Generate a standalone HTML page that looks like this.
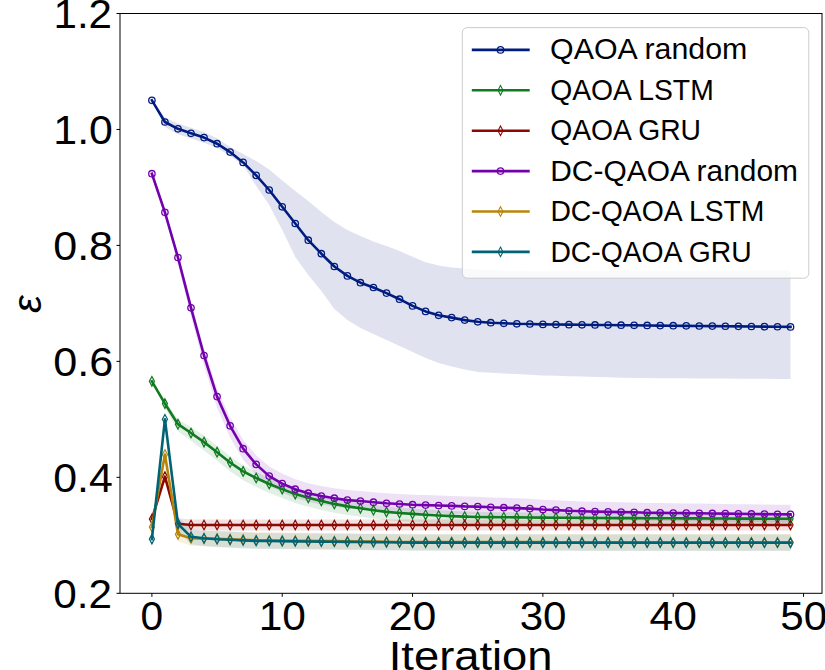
<!DOCTYPE html>
<html><head><meta charset="utf-8"><style>
html,body{margin:0;padding:0;background:#fff;width:825px;height:670px;overflow:hidden}
svg{display:block;position:absolute;left:0;top:0}
</style></head><body>
<svg width="825" height="670" viewBox="0 0 825 670">
<rect width="825" height="670" fill="#fff"/>
<defs><clipPath id="ax"><rect x="120.0" y="13.5" width="702.0" height="579.8"/></clipPath></defs>
<g clip-path="url(#ax)">
<polygon points="151.90,100.30 164.93,117.50 177.97,123.40 191.00,127.80 204.03,132.30 217.06,138.30 230.10,147.00 243.13,154.00 256.16,161.00 269.20,169.50 282.23,180.50 295.26,191.00 308.30,201.00 321.33,212.00 334.36,222.00 347.39,230.00 360.43,236.00 373.46,241.50 386.49,246.00 399.53,251.00 412.56,256.80 425.59,262.20 438.63,265.50 451.66,267.50 464.69,268.50 477.73,269.50 490.76,270.00 503.79,270.50 516.82,271.00 529.86,271.50 542.89,271.42 555.92,271.33 568.96,271.25 581.99,271.17 595.02,271.08 608.05,271.00 621.09,270.96 634.12,270.93 647.15,270.89 660.19,270.86 673.22,270.82 686.25,270.79 699.29,270.75 712.32,270.71 725.35,270.68 738.38,270.64 751.42,270.61 764.45,270.57 777.48,270.54 790.52,270.50 790.52,379.00 777.48,378.92 764.45,378.83 751.42,378.75 738.38,378.67 725.35,378.58 712.32,378.50 699.29,378.42 686.25,378.33 673.22,378.25 660.19,378.17 647.15,378.08 634.12,378.00 621.09,377.64 608.05,377.29 595.02,376.93 581.99,376.57 568.96,376.21 555.92,375.86 542.89,375.50 529.86,374.80 516.82,374.10 503.79,373.40 490.76,372.70 477.73,372.00 464.69,369.50 451.66,366.50 438.63,363.00 425.59,358.00 412.56,352.00 399.53,346.00 386.49,340.00 373.46,334.00 360.43,328.00 347.39,320.00 334.36,309.00 321.33,291.00 308.30,275.00 295.26,257.00 282.23,230.00 269.20,205.00 256.16,186.00 243.13,165.00 230.10,156.00 217.06,148.00 204.03,142.80 191.00,138.50 177.97,134.30 164.93,127.00 151.90,100.30" fill="#001c7f" fill-opacity="0.12"/>
<polygon points="151.90,381.30 164.93,400.60 177.97,419.20 191.00,427.25 204.03,435.60 217.06,445.82 230.10,456.25 243.13,465.27 256.16,472.00 269.20,478.07 282.23,483.24 295.26,488.31 308.30,492.09 321.33,495.36 334.36,498.33 347.39,500.90 360.43,502.85 373.46,504.80 386.49,506.55 399.53,507.70 412.56,508.65 425.59,509.60 438.63,510.35 451.66,511.00 464.69,511.55 477.73,512.00 490.76,512.14 503.79,512.28 516.82,512.42 529.86,512.56 542.89,512.70 555.92,512.81 568.96,512.91 581.99,513.02 595.02,513.12 608.05,513.23 621.09,513.33 634.12,513.40 647.15,513.48 660.19,513.55 673.22,513.63 686.25,513.70 699.29,513.78 712.32,513.85 725.35,513.93 738.38,514.00 751.42,514.08 764.45,514.15 777.48,514.23 790.52,514.30 790.52,523.80 777.48,523.80 764.45,523.80 751.42,523.80 738.38,523.80 725.35,523.79 712.32,523.79 699.29,523.79 686.25,523.79 673.22,523.79 660.19,523.79 647.15,523.79 634.12,523.79 621.09,523.78 608.05,523.75 595.02,523.72 581.99,523.69 568.96,523.66 555.92,523.63 542.89,523.60 529.86,523.68 516.82,523.76 503.79,523.84 490.76,523.92 477.73,524.00 464.69,523.80 451.66,523.50 438.63,523.10 425.59,522.60 412.56,521.90 399.53,521.12 386.49,520.15 373.46,518.58 360.43,516.80 347.39,515.02 334.36,512.65 321.33,509.88 308.30,506.80 295.26,503.10 282.23,498.10 269.20,493.00 256.16,487.00 243.13,480.27 230.10,471.25 217.06,460.82 204.03,450.60 191.00,440.75 177.97,431.20 164.93,407.60 151.90,381.30" fill="#0f7a1f" fill-opacity="0.12"/>
<polygon points="151.90,519.00 164.93,473.70 177.97,518.30 191.00,519.50 204.03,519.50 217.06,519.51 230.10,519.51 243.13,519.51 256.16,519.51 269.20,519.51 282.23,519.52 295.26,519.52 308.30,519.52 321.33,519.52 334.36,519.53 347.39,519.53 360.43,519.53 373.46,519.53 386.49,519.53 399.53,519.54 412.56,519.54 425.59,519.54 438.63,519.54 451.66,519.54 464.69,519.55 477.73,519.55 490.76,519.55 503.79,519.55 516.82,519.56 529.86,519.56 542.89,519.56 555.92,519.56 568.96,519.56 581.99,519.57 595.02,519.57 608.05,519.57 621.09,519.57 634.12,519.57 647.15,519.58 660.19,519.58 673.22,519.58 686.25,519.58 699.29,519.59 712.32,519.59 725.35,519.59 738.38,519.59 751.42,519.59 764.45,519.60 777.48,519.60 790.52,519.60 790.52,530.40 777.48,530.40 764.45,530.40 751.42,530.41 738.38,530.41 725.35,530.41 712.32,530.41 699.29,530.41 686.25,530.42 673.22,530.42 660.19,530.42 647.15,530.42 634.12,530.43 621.09,530.43 608.05,530.43 595.02,530.43 581.99,530.43 568.96,530.44 555.92,530.44 542.89,530.44 529.86,530.44 516.82,530.44 503.79,530.45 490.76,530.45 477.73,530.45 464.69,530.45 451.66,530.46 438.63,530.46 425.59,530.46 412.56,530.46 399.53,530.46 386.49,530.47 373.46,530.47 360.43,530.47 347.39,530.47 334.36,530.47 321.33,530.48 308.30,530.48 295.26,530.48 282.23,530.48 269.20,530.49 256.16,530.49 243.13,530.49 230.10,530.49 217.06,530.49 204.03,530.50 191.00,530.50 177.97,529.30 164.93,479.70 151.90,519.00" fill="#8c0800" fill-opacity="0.12"/>
<polygon points="151.90,173.70 164.93,209.30 177.97,252.50 191.00,301.80 204.03,348.50 217.06,388.85 230.10,417.30 243.13,439.82 256.16,455.15 269.20,466.48 282.23,473.60 295.26,479.20 308.30,483.20 321.33,486.00 334.36,488.20 347.39,490.10 360.43,491.00 373.46,492.20 386.49,493.30 399.53,494.00 412.56,494.70 425.59,495.11 438.63,495.53 451.66,495.94 464.69,496.46 477.73,496.67 490.76,497.38 503.79,497.80 516.82,498.21 529.86,498.72 542.89,499.64 555.92,500.25 568.96,500.97 581.99,501.38 595.02,501.79 608.05,502.11 621.09,502.32 634.12,502.53 647.15,502.95 660.19,503.12 673.22,503.28 686.25,503.45 699.29,503.62 712.32,503.79 725.35,503.96 738.38,504.13 751.42,504.29 764.45,504.46 777.48,504.63 790.52,504.80 790.52,522.40 777.48,522.25 764.45,522.09 751.42,521.94 738.38,521.78 725.35,521.63 712.32,521.47 699.29,521.32 686.25,521.16 673.22,521.01 660.19,520.85 647.15,520.70 634.12,520.30 621.09,520.10 608.05,519.90 595.02,519.60 581.99,519.20 568.96,518.80 555.92,518.10 542.89,517.50 529.86,516.60 516.82,516.10 503.79,515.70 490.76,515.30 477.73,514.60 464.69,514.40 451.66,513.90 438.63,513.50 425.59,513.10 412.56,512.70 399.53,512.06 386.49,511.43 373.46,510.39 360.43,509.25 347.39,508.41 334.36,506.57 321.33,504.44 308.30,501.70 295.26,498.07 282.23,492.85 269.20,485.73 256.16,474.40 243.13,459.70 230.10,437.80 217.06,407.60 204.03,365.50 191.00,316.30 177.97,264.50 164.93,216.30 151.90,173.70" fill="#7300ad" fill-opacity="0.12"/>
<polygon points="151.90,527.00 164.93,450.50 177.97,527.30 191.00,530.97 204.03,530.93 217.06,530.70 230.10,531.19 243.13,531.69 256.16,532.18 269.20,532.33 282.23,532.48 295.26,532.63 308.30,532.79 321.33,532.94 334.36,533.09 347.39,533.24 360.43,533.39 373.46,533.54 386.49,533.69 399.53,533.85 412.56,534.00 425.59,534.00 438.63,534.00 451.66,534.00 464.69,534.00 477.73,534.00 490.76,534.00 503.79,534.00 516.82,534.00 529.86,534.00 542.89,534.00 555.92,534.00 568.96,534.00 581.99,534.00 595.02,534.00 608.05,534.00 621.09,534.00 634.12,534.00 647.15,534.00 660.19,534.00 673.22,534.00 686.25,534.00 699.29,534.00 712.32,534.00 725.35,534.00 738.38,534.00 751.42,534.00 764.45,534.00 777.48,534.00 790.52,534.00 790.52,550.60 777.48,550.59 764.45,550.57 751.42,550.56 738.38,550.55 725.35,550.53 712.32,550.52 699.29,550.50 686.25,550.49 673.22,550.48 660.19,550.46 647.15,550.45 634.12,550.44 621.09,550.42 608.05,550.41 595.02,550.39 581.99,550.38 568.96,550.37 555.92,550.35 542.89,550.34 529.86,550.33 516.82,550.31 503.79,550.30 490.76,550.28 477.73,550.27 464.69,550.26 451.66,550.24 438.63,550.23 425.59,550.22 412.56,550.20 399.53,550.04 386.49,549.87 373.46,549.71 360.43,549.54 347.39,549.38 334.36,549.21 321.33,549.05 308.30,548.88 295.26,548.72 282.23,548.55 269.20,548.39 256.16,548.22 243.13,547.71 230.10,547.21 217.06,546.70 204.03,546.27 191.00,545.63 177.97,541.30 164.93,458.50 151.90,527.00" fill="#b8850a" fill-opacity="0.12"/>
<polygon points="151.90,539.10 164.93,415.30 177.97,516.80 191.00,529.47 204.03,530.63 217.06,531.20 230.10,531.79 243.13,532.39 256.16,532.88 269.20,533.01 282.23,533.15 295.26,533.28 308.30,533.42 321.33,533.55 334.36,533.69 347.39,533.82 360.43,533.96 373.46,534.09 386.49,534.23 399.53,534.36 412.56,534.50 425.59,534.50 438.63,534.50 451.66,534.50 464.69,534.50 477.73,534.50 490.76,534.50 503.79,534.50 516.82,534.50 529.86,534.50 542.89,534.50 555.92,534.50 568.96,534.50 581.99,534.50 595.02,534.50 608.05,534.50 621.09,534.50 634.12,534.50 647.15,534.50 660.19,534.50 673.22,534.50 686.25,534.50 699.29,534.50 712.32,534.50 725.35,534.50 738.38,534.50 751.42,534.50 764.45,534.50 777.48,534.50 790.52,534.50 790.52,551.10 777.48,551.09 764.45,551.07 751.42,551.06 738.38,551.05 725.35,551.03 712.32,551.02 699.29,551.00 686.25,550.99 673.22,550.98 660.19,550.96 647.15,550.95 634.12,550.94 621.09,550.92 608.05,550.91 595.02,550.89 581.99,550.88 568.96,550.87 555.92,550.85 542.89,550.84 529.86,550.83 516.82,550.81 503.79,550.80 490.76,550.78 477.73,550.77 464.69,550.76 451.66,550.74 438.63,550.73 425.59,550.72 412.56,550.70 399.53,550.55 386.49,550.41 373.46,550.26 360.43,550.11 347.39,549.96 334.36,549.81 321.33,549.66 308.30,549.51 295.26,549.37 282.23,549.22 269.20,549.07 256.16,548.92 243.13,548.41 230.10,547.81 217.06,547.20 204.03,545.97 191.00,544.13 177.97,530.80 164.93,423.30 151.90,539.10" fill="#006374" fill-opacity="0.12"/>
<polyline points="151.90,100.30 164.93,122.00 177.97,128.80 191.00,133.30 204.03,137.60 217.06,143.70 230.10,152.10 243.13,162.40 256.16,175.40 269.20,190.00 282.23,206.80 295.26,223.50 308.30,240.20 321.33,253.70 334.36,266.50 347.39,275.90 360.43,282.70 373.46,287.50 386.49,293.10 399.53,299.20 412.56,305.90 425.59,311.40 438.63,315.30 451.66,317.60 464.69,320.10 477.73,321.80 490.76,322.70 503.79,323.30 516.82,323.80 529.86,324.00 542.89,324.40 555.92,324.53 568.96,324.66 581.99,324.79 595.02,324.93 608.05,325.06 621.09,325.19 634.12,325.32 647.15,325.45 660.19,325.58 673.22,325.72 686.25,325.85 699.29,325.98 712.32,326.11 725.35,326.24 738.38,326.37 751.42,326.51 764.45,326.64 777.48,326.77 790.52,326.90" fill="none" stroke="#001c7f" stroke-width="2.6" stroke-linejoin="round" stroke-linecap="square"/>
<g fill="none" stroke="#001c7f" stroke-width="1.3"><circle cx="151.90" cy="100.30" r="3.2"/><circle cx="164.93" cy="122.00" r="3.2"/><circle cx="177.97" cy="128.80" r="3.2"/><circle cx="191.00" cy="133.30" r="3.2"/><circle cx="204.03" cy="137.60" r="3.2"/><circle cx="217.06" cy="143.70" r="3.2"/><circle cx="230.10" cy="152.10" r="3.2"/><circle cx="243.13" cy="162.40" r="3.2"/><circle cx="256.16" cy="175.40" r="3.2"/><circle cx="269.20" cy="190.00" r="3.2"/><circle cx="282.23" cy="206.80" r="3.2"/><circle cx="295.26" cy="223.50" r="3.2"/><circle cx="308.30" cy="240.20" r="3.2"/><circle cx="321.33" cy="253.70" r="3.2"/><circle cx="334.36" cy="266.50" r="3.2"/><circle cx="347.39" cy="275.90" r="3.2"/><circle cx="360.43" cy="282.70" r="3.2"/><circle cx="373.46" cy="287.50" r="3.2"/><circle cx="386.49" cy="293.10" r="3.2"/><circle cx="399.53" cy="299.20" r="3.2"/><circle cx="412.56" cy="305.90" r="3.2"/><circle cx="425.59" cy="311.40" r="3.2"/><circle cx="438.63" cy="315.30" r="3.2"/><circle cx="451.66" cy="317.60" r="3.2"/><circle cx="464.69" cy="320.10" r="3.2"/><circle cx="477.73" cy="321.80" r="3.2"/><circle cx="490.76" cy="322.70" r="3.2"/><circle cx="503.79" cy="323.30" r="3.2"/><circle cx="516.82" cy="323.80" r="3.2"/><circle cx="529.86" cy="324.00" r="3.2"/><circle cx="542.89" cy="324.40" r="3.2"/><circle cx="555.92" cy="324.53" r="3.2"/><circle cx="568.96" cy="324.66" r="3.2"/><circle cx="581.99" cy="324.79" r="3.2"/><circle cx="595.02" cy="324.93" r="3.2"/><circle cx="608.05" cy="325.06" r="3.2"/><circle cx="621.09" cy="325.19" r="3.2"/><circle cx="634.12" cy="325.32" r="3.2"/><circle cx="647.15" cy="325.45" r="3.2"/><circle cx="660.19" cy="325.58" r="3.2"/><circle cx="673.22" cy="325.72" r="3.2"/><circle cx="686.25" cy="325.85" r="3.2"/><circle cx="699.29" cy="325.98" r="3.2"/><circle cx="712.32" cy="326.11" r="3.2"/><circle cx="725.35" cy="326.24" r="3.2"/><circle cx="738.38" cy="326.37" r="3.2"/><circle cx="751.42" cy="326.51" r="3.2"/><circle cx="764.45" cy="326.64" r="3.2"/><circle cx="777.48" cy="326.77" r="3.2"/><circle cx="790.52" cy="326.90" r="3.2"/></g>
<polyline points="151.90,381.30 164.93,403.60 177.97,424.20 191.00,433.00 204.03,442.10 217.06,452.20 230.10,462.50 243.13,471.40 256.16,478.00 269.20,484.00 282.23,489.10 295.26,494.10 308.30,497.80 321.33,501.00 334.36,503.90 347.39,506.40 360.43,508.30 373.46,510.20 386.49,511.90 399.53,513.00 412.56,513.90 425.59,514.80 438.63,515.50 451.66,516.10 464.69,516.60 477.73,517.00 490.76,517.12 503.79,517.24 516.82,517.36 529.86,517.48 542.89,517.60 555.92,517.68 568.96,517.77 581.99,517.85 595.02,517.93 608.05,518.02 621.09,518.10 634.12,518.15 647.15,518.21 660.19,518.26 673.22,518.32 686.25,518.37 699.29,518.42 712.32,518.48 725.35,518.53 738.38,518.58 751.42,518.64 764.45,518.69 777.48,518.75 790.52,518.80" fill="none" stroke="#0f7a1f" stroke-width="2.6" stroke-linejoin="round" stroke-linecap="square"/>
<path d="M151.90,376.50L154.45,381.30L151.90,386.10L149.35,381.30ZM164.93,398.80L167.48,403.60L164.93,408.40L162.38,403.60ZM177.97,419.40L180.52,424.20L177.97,429.00L175.42,424.20ZM191.00,428.20L193.55,433.00L191.00,437.80L188.45,433.00ZM204.03,437.30L206.58,442.10L204.03,446.90L201.48,442.10ZM217.06,447.40L219.62,452.20L217.06,457.00L214.51,452.20ZM230.10,457.70L232.65,462.50L230.10,467.30L227.55,462.50ZM243.13,466.60L245.68,471.40L243.13,476.20L240.58,471.40ZM256.16,473.20L258.71,478.00L256.16,482.80L253.61,478.00ZM269.20,479.20L271.75,484.00L269.20,488.80L266.65,484.00ZM282.23,484.30L284.78,489.10L282.23,493.90L279.68,489.10ZM295.26,489.30L297.81,494.10L295.26,498.90L292.71,494.10ZM308.30,493.00L310.85,497.80L308.30,502.60L305.75,497.80ZM321.33,496.20L323.88,501.00L321.33,505.80L318.78,501.00ZM334.36,499.10L336.91,503.90L334.36,508.70L331.81,503.90ZM347.39,501.60L349.94,506.40L347.39,511.20L344.84,506.40ZM360.43,503.50L362.98,508.30L360.43,513.10L357.88,508.30ZM373.46,505.40L376.01,510.20L373.46,515.00L370.91,510.20ZM386.49,507.10L389.04,511.90L386.49,516.70L383.94,511.90ZM399.53,508.20L402.08,513.00L399.53,517.80L396.98,513.00ZM412.56,509.10L415.11,513.90L412.56,518.70L410.01,513.90ZM425.59,510.00L428.14,514.80L425.59,519.60L423.04,514.80ZM438.63,510.70L441.18,515.50L438.63,520.30L436.08,515.50ZM451.66,511.30L454.21,516.10L451.66,520.90L449.11,516.10ZM464.69,511.80L467.24,516.60L464.69,521.40L462.14,516.60ZM477.73,512.20L480.28,517.00L477.73,521.80L475.18,517.00ZM490.76,512.32L493.31,517.12L490.76,521.92L488.21,517.12ZM503.79,512.44L506.34,517.24L503.79,522.04L501.24,517.24ZM516.82,512.56L519.37,517.36L516.82,522.16L514.27,517.36ZM529.86,512.68L532.41,517.48L529.86,522.28L527.31,517.48ZM542.89,512.80L545.44,517.60L542.89,522.40L540.34,517.60ZM555.92,512.88L558.47,517.68L555.92,522.48L553.37,517.68ZM568.96,512.97L571.51,517.77L568.96,522.57L566.41,517.77ZM581.99,513.05L584.54,517.85L581.99,522.65L579.44,517.85ZM595.02,513.13L597.57,517.93L595.02,522.73L592.47,517.93ZM608.05,513.22L610.60,518.02L608.05,522.82L605.50,518.02ZM621.09,513.30L623.64,518.10L621.09,522.90L618.54,518.10ZM634.12,513.35L636.67,518.15L634.12,522.95L631.57,518.15ZM647.15,513.41L649.70,518.21L647.15,523.01L644.60,518.21ZM660.19,513.46L662.74,518.26L660.19,523.06L657.64,518.26ZM673.22,513.52L675.77,518.32L673.22,523.12L670.67,518.32ZM686.25,513.57L688.80,518.37L686.25,523.17L683.70,518.37ZM699.29,513.62L701.84,518.42L699.29,523.22L696.74,518.42ZM712.32,513.68L714.87,518.48L712.32,523.28L709.77,518.48ZM725.35,513.73L727.90,518.53L725.35,523.33L722.80,518.53ZM738.38,513.78L740.93,518.58L738.38,523.38L735.84,518.58ZM751.42,513.84L753.97,518.64L751.42,523.44L748.87,518.64ZM764.45,513.89L767.00,518.69L764.45,523.49L761.90,518.69ZM777.48,513.95L780.03,518.75L777.48,523.55L774.93,518.75ZM790.52,514.00L793.07,518.80L790.52,523.60L787.97,518.80Z" fill="none" stroke="#0f7a1f" stroke-width="1.2" stroke-linejoin="miter"/>
<polyline points="151.90,519.00 164.93,476.70 177.97,523.80 191.00,525.00 204.03,525.00 217.06,525.00 230.10,525.00 243.13,525.00 256.16,525.00 269.20,525.00 282.23,525.00 295.26,525.00 308.30,525.00 321.33,525.00 334.36,525.00 347.39,525.00 360.43,525.00 373.46,525.00 386.49,525.00 399.53,525.00 412.56,525.00 425.59,525.00 438.63,525.00 451.66,525.00 464.69,525.00 477.73,525.00 490.76,525.00 503.79,525.00 516.82,525.00 529.86,525.00 542.89,525.00 555.92,525.00 568.96,525.00 581.99,525.00 595.02,525.00 608.05,525.00 621.09,525.00 634.12,525.00 647.15,525.00 660.19,525.00 673.22,525.00 686.25,525.00 699.29,525.00 712.32,525.00 725.35,525.00 738.38,525.00 751.42,525.00 764.45,525.00 777.48,525.00 790.52,525.00" fill="none" stroke="#8c0800" stroke-width="2.6" stroke-linejoin="round" stroke-linecap="square"/>
<path d="M151.90,514.20L154.45,519.00L151.90,523.80L149.35,519.00ZM164.93,471.90L167.48,476.70L164.93,481.50L162.38,476.70ZM177.97,519.00L180.52,523.80L177.97,528.60L175.42,523.80ZM191.00,520.20L193.55,525.00L191.00,529.80L188.45,525.00ZM204.03,520.20L206.58,525.00L204.03,529.80L201.48,525.00ZM217.06,520.20L219.62,525.00L217.06,529.80L214.51,525.00ZM230.10,520.20L232.65,525.00L230.10,529.80L227.55,525.00ZM243.13,520.20L245.68,525.00L243.13,529.80L240.58,525.00ZM256.16,520.20L258.71,525.00L256.16,529.80L253.61,525.00ZM269.20,520.20L271.75,525.00L269.20,529.80L266.65,525.00ZM282.23,520.20L284.78,525.00L282.23,529.80L279.68,525.00ZM295.26,520.20L297.81,525.00L295.26,529.80L292.71,525.00ZM308.30,520.20L310.85,525.00L308.30,529.80L305.75,525.00ZM321.33,520.20L323.88,525.00L321.33,529.80L318.78,525.00ZM334.36,520.20L336.91,525.00L334.36,529.80L331.81,525.00ZM347.39,520.20L349.94,525.00L347.39,529.80L344.84,525.00ZM360.43,520.20L362.98,525.00L360.43,529.80L357.88,525.00ZM373.46,520.20L376.01,525.00L373.46,529.80L370.91,525.00ZM386.49,520.20L389.04,525.00L386.49,529.80L383.94,525.00ZM399.53,520.20L402.08,525.00L399.53,529.80L396.98,525.00ZM412.56,520.20L415.11,525.00L412.56,529.80L410.01,525.00ZM425.59,520.20L428.14,525.00L425.59,529.80L423.04,525.00ZM438.63,520.20L441.18,525.00L438.63,529.80L436.08,525.00ZM451.66,520.20L454.21,525.00L451.66,529.80L449.11,525.00ZM464.69,520.20L467.24,525.00L464.69,529.80L462.14,525.00ZM477.73,520.20L480.28,525.00L477.73,529.80L475.18,525.00ZM490.76,520.20L493.31,525.00L490.76,529.80L488.21,525.00ZM503.79,520.20L506.34,525.00L503.79,529.80L501.24,525.00ZM516.82,520.20L519.37,525.00L516.82,529.80L514.27,525.00ZM529.86,520.20L532.41,525.00L529.86,529.80L527.31,525.00ZM542.89,520.20L545.44,525.00L542.89,529.80L540.34,525.00ZM555.92,520.20L558.47,525.00L555.92,529.80L553.37,525.00ZM568.96,520.20L571.51,525.00L568.96,529.80L566.41,525.00ZM581.99,520.20L584.54,525.00L581.99,529.80L579.44,525.00ZM595.02,520.20L597.57,525.00L595.02,529.80L592.47,525.00ZM608.05,520.20L610.60,525.00L608.05,529.80L605.50,525.00ZM621.09,520.20L623.64,525.00L621.09,529.80L618.54,525.00ZM634.12,520.20L636.67,525.00L634.12,529.80L631.57,525.00ZM647.15,520.20L649.70,525.00L647.15,529.80L644.60,525.00ZM660.19,520.20L662.74,525.00L660.19,529.80L657.64,525.00ZM673.22,520.20L675.77,525.00L673.22,529.80L670.67,525.00ZM686.25,520.20L688.80,525.00L686.25,529.80L683.70,525.00ZM699.29,520.20L701.84,525.00L699.29,529.80L696.74,525.00ZM712.32,520.20L714.87,525.00L712.32,529.80L709.77,525.00ZM725.35,520.20L727.90,525.00L725.35,529.80L722.80,525.00ZM738.38,520.20L740.93,525.00L738.38,529.80L735.84,525.00ZM751.42,520.20L753.97,525.00L751.42,529.80L748.87,525.00ZM764.45,520.20L767.00,525.00L764.45,529.80L761.90,525.00ZM777.48,520.20L780.03,525.00L777.48,529.80L774.93,525.00ZM790.52,520.20L793.07,525.00L790.52,529.80L787.97,525.00Z" fill="none" stroke="#8c0800" stroke-width="1.2" stroke-linejoin="miter"/>
<polyline points="151.90,173.70 164.93,212.30 177.97,257.50 191.00,307.80 204.03,355.50 217.06,396.60 230.10,425.80 243.13,448.70 256.16,464.40 269.20,476.10 282.23,483.60 295.26,489.20 308.30,493.20 321.33,496.00 334.36,498.20 347.39,500.10 360.43,501.00 373.46,502.20 386.49,503.30 399.53,504.00 412.56,504.70 425.59,505.10 438.63,505.50 451.66,505.90 464.69,506.40 477.73,506.60 490.76,507.30 503.79,507.70 516.82,508.10 529.86,508.60 542.89,509.50 555.92,510.10 568.96,510.80 581.99,511.20 595.02,511.60 608.05,511.90 621.09,512.10 634.12,512.30 647.15,512.70 660.19,512.85 673.22,513.01 686.25,513.16 699.29,513.32 712.32,513.47 725.35,513.63 738.38,513.78 751.42,513.94 764.45,514.09 777.48,514.25 790.52,514.40" fill="none" stroke="#7300ad" stroke-width="2.6" stroke-linejoin="round" stroke-linecap="square"/>
<g fill="none" stroke="#7300ad" stroke-width="1.3"><circle cx="151.90" cy="173.70" r="3.2"/><circle cx="164.93" cy="212.30" r="3.2"/><circle cx="177.97" cy="257.50" r="3.2"/><circle cx="191.00" cy="307.80" r="3.2"/><circle cx="204.03" cy="355.50" r="3.2"/><circle cx="217.06" cy="396.60" r="3.2"/><circle cx="230.10" cy="425.80" r="3.2"/><circle cx="243.13" cy="448.70" r="3.2"/><circle cx="256.16" cy="464.40" r="3.2"/><circle cx="269.20" cy="476.10" r="3.2"/><circle cx="282.23" cy="483.60" r="3.2"/><circle cx="295.26" cy="489.20" r="3.2"/><circle cx="308.30" cy="493.20" r="3.2"/><circle cx="321.33" cy="496.00" r="3.2"/><circle cx="334.36" cy="498.20" r="3.2"/><circle cx="347.39" cy="500.10" r="3.2"/><circle cx="360.43" cy="501.00" r="3.2"/><circle cx="373.46" cy="502.20" r="3.2"/><circle cx="386.49" cy="503.30" r="3.2"/><circle cx="399.53" cy="504.00" r="3.2"/><circle cx="412.56" cy="504.70" r="3.2"/><circle cx="425.59" cy="505.10" r="3.2"/><circle cx="438.63" cy="505.50" r="3.2"/><circle cx="451.66" cy="505.90" r="3.2"/><circle cx="464.69" cy="506.40" r="3.2"/><circle cx="477.73" cy="506.60" r="3.2"/><circle cx="490.76" cy="507.30" r="3.2"/><circle cx="503.79" cy="507.70" r="3.2"/><circle cx="516.82" cy="508.10" r="3.2"/><circle cx="529.86" cy="508.60" r="3.2"/><circle cx="542.89" cy="509.50" r="3.2"/><circle cx="555.92" cy="510.10" r="3.2"/><circle cx="568.96" cy="510.80" r="3.2"/><circle cx="581.99" cy="511.20" r="3.2"/><circle cx="595.02" cy="511.60" r="3.2"/><circle cx="608.05" cy="511.90" r="3.2"/><circle cx="621.09" cy="512.10" r="3.2"/><circle cx="634.12" cy="512.30" r="3.2"/><circle cx="647.15" cy="512.70" r="3.2"/><circle cx="660.19" cy="512.85" r="3.2"/><circle cx="673.22" cy="513.01" r="3.2"/><circle cx="686.25" cy="513.16" r="3.2"/><circle cx="699.29" cy="513.32" r="3.2"/><circle cx="712.32" cy="513.47" r="3.2"/><circle cx="725.35" cy="513.63" r="3.2"/><circle cx="738.38" cy="513.78" r="3.2"/><circle cx="751.42" cy="513.94" r="3.2"/><circle cx="764.45" cy="514.09" r="3.2"/><circle cx="777.48" cy="514.25" r="3.2"/><circle cx="790.52" cy="514.40" r="3.2"/></g>
<polyline points="151.90,527.00 164.93,454.50 177.97,534.30 191.00,538.30 204.03,538.60 217.06,538.70 230.10,539.20 243.13,539.70 256.16,540.20 269.20,540.36 282.23,540.52 295.26,540.68 308.30,540.83 321.33,540.99 334.36,541.15 347.39,541.31 360.43,541.47 373.46,541.62 386.49,541.78 399.53,541.94 412.56,542.10 425.59,542.11 438.63,542.11 451.66,542.12 464.69,542.13 477.73,542.13 490.76,542.14 503.79,542.15 516.82,542.16 529.86,542.16 542.89,542.17 555.92,542.18 568.96,542.18 581.99,542.19 595.02,542.20 608.05,542.20 621.09,542.21 634.12,542.22 647.15,542.22 660.19,542.23 673.22,542.24 686.25,542.24 699.29,542.25 712.32,542.26 725.35,542.27 738.38,542.27 751.42,542.28 764.45,542.29 777.48,542.29 790.52,542.30" fill="none" stroke="#b8850a" stroke-width="2.6" stroke-linejoin="round" stroke-linecap="square"/>
<path d="M151.90,522.20L154.45,527.00L151.90,531.80L149.35,527.00ZM164.93,449.70L167.48,454.50L164.93,459.30L162.38,454.50ZM177.97,529.50L180.52,534.30L177.97,539.10L175.42,534.30ZM191.00,533.50L193.55,538.30L191.00,543.10L188.45,538.30ZM204.03,533.80L206.58,538.60L204.03,543.40L201.48,538.60ZM217.06,533.90L219.62,538.70L217.06,543.50L214.51,538.70ZM230.10,534.40L232.65,539.20L230.10,544.00L227.55,539.20ZM243.13,534.90L245.68,539.70L243.13,544.50L240.58,539.70ZM256.16,535.40L258.71,540.20L256.16,545.00L253.61,540.20ZM269.20,535.56L271.75,540.36L269.20,545.16L266.65,540.36ZM282.23,535.72L284.78,540.52L282.23,545.32L279.68,540.52ZM295.26,535.88L297.81,540.68L295.26,545.48L292.71,540.68ZM308.30,536.03L310.85,540.83L308.30,545.63L305.75,540.83ZM321.33,536.19L323.88,540.99L321.33,545.79L318.78,540.99ZM334.36,536.35L336.91,541.15L334.36,545.95L331.81,541.15ZM347.39,536.51L349.94,541.31L347.39,546.11L344.84,541.31ZM360.43,536.67L362.98,541.47L360.43,546.27L357.88,541.47ZM373.46,536.83L376.01,541.62L373.46,546.42L370.91,541.62ZM386.49,536.98L389.04,541.78L386.49,546.58L383.94,541.78ZM399.53,537.14L402.08,541.94L399.53,546.74L396.98,541.94ZM412.56,537.30L415.11,542.10L412.56,546.90L410.01,542.10ZM425.59,537.31L428.14,542.11L425.59,546.91L423.04,542.11ZM438.63,537.31L441.18,542.11L438.63,546.91L436.08,542.11ZM451.66,537.32L454.21,542.12L451.66,546.92L449.11,542.12ZM464.69,537.33L467.24,542.13L464.69,546.93L462.14,542.13ZM477.73,537.33L480.28,542.13L477.73,546.93L475.18,542.13ZM490.76,537.34L493.31,542.14L490.76,546.94L488.21,542.14ZM503.79,537.35L506.34,542.15L503.79,546.95L501.24,542.15ZM516.82,537.36L519.37,542.16L516.82,546.96L514.27,542.16ZM529.86,537.36L532.41,542.16L529.86,546.96L527.31,542.16ZM542.89,537.37L545.44,542.17L542.89,546.97L540.34,542.17ZM555.92,537.38L558.47,542.18L555.92,546.98L553.37,542.18ZM568.96,537.38L571.51,542.18L568.96,546.98L566.41,542.18ZM581.99,537.39L584.54,542.19L581.99,546.99L579.44,542.19ZM595.02,537.40L597.57,542.20L595.02,547.00L592.47,542.20ZM608.05,537.40L610.60,542.20L608.05,547.00L605.50,542.20ZM621.09,537.41L623.64,542.21L621.09,547.01L618.54,542.21ZM634.12,537.42L636.67,542.22L634.12,547.02L631.57,542.22ZM647.15,537.42L649.70,542.22L647.15,547.02L644.60,542.22ZM660.19,537.43L662.74,542.23L660.19,547.03L657.64,542.23ZM673.22,537.44L675.77,542.24L673.22,547.04L670.67,542.24ZM686.25,537.44L688.80,542.24L686.25,547.04L683.70,542.24ZM699.29,537.45L701.84,542.25L699.29,547.05L696.74,542.25ZM712.32,537.46L714.87,542.26L712.32,547.06L709.77,542.26ZM725.35,537.47L727.90,542.27L725.35,547.07L722.80,542.27ZM738.38,537.47L740.93,542.27L738.38,547.07L735.84,542.27ZM751.42,537.48L753.97,542.28L751.42,547.08L748.87,542.28ZM764.45,537.49L767.00,542.29L764.45,547.09L761.90,542.29ZM777.48,537.49L780.03,542.29L777.48,547.09L774.93,542.29ZM790.52,537.50L793.07,542.30L790.52,547.10L787.97,542.30Z" fill="none" stroke="#b8850a" stroke-width="1.2" stroke-linejoin="miter"/>
<polyline points="151.90,539.10 164.93,419.30 177.97,523.80 191.00,536.80 204.03,538.30 217.06,539.20 230.10,539.80 243.13,540.40 256.16,540.90 269.20,541.04 282.23,541.18 295.26,541.33 308.30,541.47 321.33,541.61 334.36,541.75 347.39,541.89 360.43,542.03 373.46,542.17 386.49,542.32 399.53,542.46 412.56,542.60 425.59,542.61 438.63,542.61 451.66,542.62 464.69,542.63 477.73,542.63 490.76,542.64 503.79,542.65 516.82,542.66 529.86,542.66 542.89,542.67 555.92,542.68 568.96,542.68 581.99,542.69 595.02,542.70 608.05,542.70 621.09,542.71 634.12,542.72 647.15,542.72 660.19,542.73 673.22,542.74 686.25,542.74 699.29,542.75 712.32,542.76 725.35,542.77 738.38,542.77 751.42,542.78 764.45,542.79 777.48,542.79 790.52,542.80" fill="none" stroke="#006374" stroke-width="2.6" stroke-linejoin="round" stroke-linecap="square"/>
<path d="M151.90,534.30L154.45,539.10L151.90,543.90L149.35,539.10ZM164.93,414.50L167.48,419.30L164.93,424.10L162.38,419.30ZM177.97,519.00L180.52,523.80L177.97,528.60L175.42,523.80ZM191.00,532.00L193.55,536.80L191.00,541.60L188.45,536.80ZM204.03,533.50L206.58,538.30L204.03,543.10L201.48,538.30ZM217.06,534.40L219.62,539.20L217.06,544.00L214.51,539.20ZM230.10,535.00L232.65,539.80L230.10,544.60L227.55,539.80ZM243.13,535.60L245.68,540.40L243.13,545.20L240.58,540.40ZM256.16,536.10L258.71,540.90L256.16,545.70L253.61,540.90ZM269.20,536.24L271.75,541.04L269.20,545.84L266.65,541.04ZM282.23,536.38L284.78,541.18L282.23,545.98L279.68,541.18ZM295.26,536.53L297.81,541.33L295.26,546.12L292.71,541.33ZM308.30,536.67L310.85,541.47L308.30,546.27L305.75,541.47ZM321.33,536.81L323.88,541.61L321.33,546.41L318.78,541.61ZM334.36,536.95L336.91,541.75L334.36,546.55L331.81,541.75ZM347.39,537.09L349.94,541.89L347.39,546.69L344.84,541.89ZM360.43,537.23L362.98,542.03L360.43,546.83L357.88,542.03ZM373.46,537.38L376.01,542.17L373.46,546.97L370.91,542.17ZM386.49,537.52L389.04,542.32L386.49,547.12L383.94,542.32ZM399.53,537.66L402.08,542.46L399.53,547.26L396.98,542.46ZM412.56,537.80L415.11,542.60L412.56,547.40L410.01,542.60ZM425.59,537.81L428.14,542.61L425.59,547.41L423.04,542.61ZM438.63,537.81L441.18,542.61L438.63,547.41L436.08,542.61ZM451.66,537.82L454.21,542.62L451.66,547.42L449.11,542.62ZM464.69,537.83L467.24,542.63L464.69,547.43L462.14,542.63ZM477.73,537.83L480.28,542.63L477.73,547.43L475.18,542.63ZM490.76,537.84L493.31,542.64L490.76,547.44L488.21,542.64ZM503.79,537.85L506.34,542.65L503.79,547.45L501.24,542.65ZM516.82,537.86L519.37,542.66L516.82,547.46L514.27,542.66ZM529.86,537.86L532.41,542.66L529.86,547.46L527.31,542.66ZM542.89,537.87L545.44,542.67L542.89,547.47L540.34,542.67ZM555.92,537.88L558.47,542.68L555.92,547.48L553.37,542.68ZM568.96,537.88L571.51,542.68L568.96,547.48L566.41,542.68ZM581.99,537.89L584.54,542.69L581.99,547.49L579.44,542.69ZM595.02,537.90L597.57,542.70L595.02,547.50L592.47,542.70ZM608.05,537.90L610.60,542.70L608.05,547.50L605.50,542.70ZM621.09,537.91L623.64,542.71L621.09,547.51L618.54,542.71ZM634.12,537.92L636.67,542.72L634.12,547.52L631.57,542.72ZM647.15,537.92L649.70,542.72L647.15,547.52L644.60,542.72ZM660.19,537.93L662.74,542.73L660.19,547.53L657.64,542.73ZM673.22,537.94L675.77,542.74L673.22,547.54L670.67,542.74ZM686.25,537.94L688.80,542.74L686.25,547.54L683.70,542.74ZM699.29,537.95L701.84,542.75L699.29,547.55L696.74,542.75ZM712.32,537.96L714.87,542.76L712.32,547.56L709.77,542.76ZM725.35,537.97L727.90,542.77L725.35,547.57L722.80,542.77ZM738.38,537.97L740.93,542.77L738.38,547.57L735.84,542.77ZM751.42,537.98L753.97,542.78L751.42,547.58L748.87,542.78ZM764.45,537.99L767.00,542.79L764.45,547.59L761.90,542.79ZM777.48,537.99L780.03,542.79L777.48,547.59L774.93,542.79ZM790.52,538.00L793.07,542.80L790.52,547.60L787.97,542.80Z" fill="none" stroke="#006374" stroke-width="1.2" stroke-linejoin="miter"/>
</g>
<rect x="120.0" y="13.5" width="702.0" height="579.8" fill="none" stroke="#000" stroke-width="1.0"/>
<path d="M116.5,593.30H120.0M116.5,477.34H120.0M116.5,361.38H120.0M116.5,245.42H120.0M116.5,129.46H120.0M116.5,13.50H120.0M151.90,593.3V596.8M282.23,593.3V596.8M412.56,593.3V596.8M542.89,593.3V596.8M673.22,593.3V596.8M803.55,593.3V596.8" stroke="#000" stroke-width="1.0"/>
<g font-family="Liberation Sans, sans-serif" fill="#000">
<text x="53.31" y="607.90" font-size="40.92" textLength="58.76" lengthAdjust="spacingAndGlyphs">0.2</text>
<text x="53.28" y="491.94" font-size="40.92" textLength="59.61" lengthAdjust="spacingAndGlyphs">0.4</text>
<text x="53.27" y="375.98" font-size="40.92" textLength="59.99" lengthAdjust="spacingAndGlyphs">0.6</text>
<text x="53.28" y="260.02" font-size="40.92" textLength="59.75" lengthAdjust="spacingAndGlyphs">0.8</text>
<text x="53.39" y="144.06" font-size="40.92" textLength="59.52" lengthAdjust="spacingAndGlyphs">1.0</text>
<text x="53.44" y="28.10" font-size="40.92" textLength="58.61" lengthAdjust="spacingAndGlyphs">1.2</text>
<text x="140.58" y="629.50" font-size="40.92" textLength="22.63" lengthAdjust="spacingAndGlyphs">0</text>
<text x="258.68" y="629.50" font-size="40.92" textLength="47.20" lengthAdjust="spacingAndGlyphs">10</text>
<text x="388.68" y="629.50" font-size="40.92" textLength="47.55" lengthAdjust="spacingAndGlyphs">20</text>
<text x="519.67" y="629.50" font-size="40.92" textLength="46.86" lengthAdjust="spacingAndGlyphs">30</text>
<text x="649.57" y="629.50" font-size="40.92" textLength="47.31" lengthAdjust="spacingAndGlyphs">40</text>
<text x="780.28" y="629.50" font-size="40.92" textLength="46.91" lengthAdjust="spacingAndGlyphs">50</text>
<text x="388.74" y="670.00" font-size="40.92" textLength="163.79" lengthAdjust="spacingAndGlyphs">Iteration</text>
</g>
<text x="0" y="0" font-family="Liberation Sans, sans-serif" font-style="italic" font-size="40" transform="translate(41,313) rotate(-90)">ε</text>
<rect x="462.3" y="27.6" width="346.49999999999994" height="250.6" rx="5" ry="5" fill="#fff" fill-opacity="0.8" stroke="#cccccc" stroke-width="1.0"/>
<g font-family="Liberation Sans, sans-serif" fill="#000">
<line x1="471.8" y1="49.90" x2="529.7" y2="49.90" stroke="#001c7f" stroke-width="2.6" stroke-linecap="butt"/>
<circle cx="500.5" cy="49.90" r="3.2" fill="none" stroke="#001c7f" stroke-width="1.3"/>
<text x="550.13" y="59.10" font-size="29.36" textLength="197.24" lengthAdjust="spacingAndGlyphs">QAOA random</text>
<line x1="471.8" y1="90.30" x2="529.7" y2="90.30" stroke="#0f7a1f" stroke-width="2.6" stroke-linecap="butt"/>
<path d="M500.5,85.50L503.0,90.30L500.5,95.10L498.0,90.30Z" fill="none" stroke="#0f7a1f" stroke-width="1.05"/>
<text x="550.23" y="99.60" font-size="29.36" textLength="163.51" lengthAdjust="spacingAndGlyphs">QAOA LSTM</text>
<line x1="471.8" y1="130.70" x2="529.7" y2="130.70" stroke="#8c0800" stroke-width="2.6" stroke-linecap="butt"/>
<path d="M500.5,125.90L503.0,130.70L500.5,135.50L498.0,130.70Z" fill="none" stroke="#8c0800" stroke-width="1.05"/>
<text x="550.23" y="140.10" font-size="29.36" textLength="150.82" lengthAdjust="spacingAndGlyphs">QAOA GRU</text>
<line x1="471.8" y1="171.10" x2="529.7" y2="171.10" stroke="#7300ad" stroke-width="2.6" stroke-linecap="butt"/>
<circle cx="500.5" cy="171.10" r="3.2" fill="none" stroke="#7300ad" stroke-width="1.3"/>
<text x="550.28" y="180.60" font-size="29.36" textLength="247.73" lengthAdjust="spacingAndGlyphs">DC-QAOA random</text>
<line x1="471.8" y1="211.50" x2="529.7" y2="211.50" stroke="#b8850a" stroke-width="2.6" stroke-linecap="butt"/>
<path d="M500.5,206.70L503.0,211.50L500.5,216.30L498.0,211.50Z" fill="none" stroke="#b8850a" stroke-width="1.05"/>
<text x="550.41" y="221.10" font-size="29.36" textLength="214.00" lengthAdjust="spacingAndGlyphs">DC-QAOA LSTM</text>
<line x1="471.8" y1="251.90" x2="529.7" y2="251.90" stroke="#006374" stroke-width="2.6" stroke-linecap="butt"/>
<path d="M500.5,247.10L503.0,251.90L500.5,256.70L498.0,251.90Z" fill="none" stroke="#006374" stroke-width="1.05"/>
<text x="550.41" y="261.60" font-size="29.36" textLength="201.31" lengthAdjust="spacingAndGlyphs">DC-QAOA GRU</text>
</g>
</svg>
</body></html>
